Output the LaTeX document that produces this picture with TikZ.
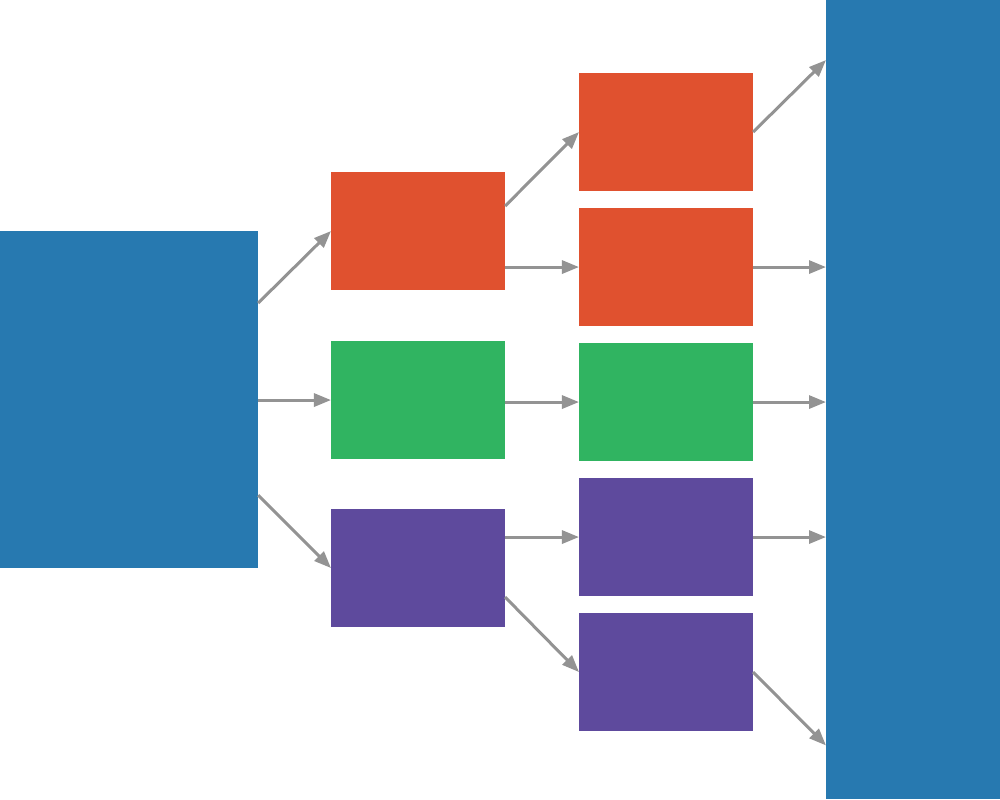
\documentclass[tikz,border=0pt]{standalone}
\usepackage{tikz}
\usetikzlibrary{arrows.meta}
\definecolor{stageblue}{HTML}{2779B0}
\definecolor{stagered}{HTML}{E0512F}
\definecolor{stagegreen}{HTML}{30B461}
\definecolor{stagepurple}{HTML}{5E4A9D}
\definecolor{linkgray}{HTML}{939393}

\begin{document}
\begin{tikzpicture}[x=0.01cm, y=-0.01cm,
        blk/.style={anchor=north west, inner sep=0pt, outer sep=0pt, minimum width=1.74cm, minimum height=1.18cm},
        link/.style={draw=linkgray, line width=0.03cm, -{Triangle[length=0.17cm, width=0.13cm]}}]
        \useasboundingbox (0,0) rectangle (1000,799);
        \begin{scope}
            \node [anchor=north west, inner sep=0pt, outer sep=0pt, fill=stageblue, minimum width=2.58cm, minimum height=3.37cm] (src) at (0,231) {};
            \node [anchor=north west, inner sep=0pt, outer sep=0pt, fill=stageblue, minimum width=1.74cm, minimum height=7.99cm] (sink) at (826,0) {};
            \node [blk, fill=stagered] (r1) at (331,172) {};
            \node [blk, fill=stagegreen] (g1) at (331,341) {};
            \node [blk, fill=stagepurple] (p1) at (331,509) {};
            \node [blk, fill=stagered] (r2a) at (579,73) {};
            \node [blk, fill=stagered] (r2b) at (579,208) {};
            \node [blk, fill=stagegreen] (g2) at (579,343) {};
            \node [blk, fill=stagepurple] (p2a) at (579,478) {};
            \node [blk, fill=stagepurple] (p2b) at (579,613) {};
        \end{scope}
        \begin{scope}
            \draw [link] ([yshift=0.965cm]src.east) -- (r1.west);
            \draw [link] (src.east |- g1.west) -- (g1.west);
            \draw [link] ([yshift=-0.955cm]src.east) -- (p1.west);
            \draw [link] ([yshift=0.25cm]r1.east) -- (r2a.west);
            \draw [link] (r1.east |- r2b.west) -- (r2b.west);
            \draw [link] (g1.east |- g2.west) -- (g2.west);
            \draw [link] (p1.east |- p2a.west) -- (p2a.west);
            \draw [link] ([yshift=-0.29cm]p1.east) -- (p2b.west);
            \draw [link] (r2a.east) -- ([yshift=3.395cm]sink.west);
            \draw [link] (r2b.east) -- (r2b.east -| sink.west);
            \draw [link] (g2.east) -- (g2.east -| sink.west);
            \draw [link] (p2a.east) -- (p2a.east -| sink.west);
            \draw [link] (p2b.east) -- ([yshift=-3.455cm]sink.west);
        \end{scope}
    \end{tikzpicture}
\end{document}
